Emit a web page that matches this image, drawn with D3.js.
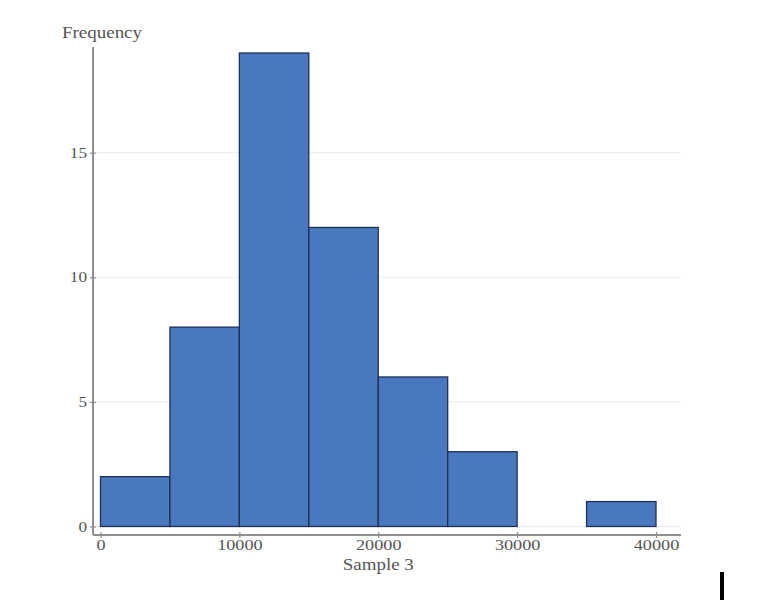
<!DOCTYPE html>
<html>
<head>
<meta charset="utf-8">
<script src="https://cdn.jsdelivr.net/npm/d3@7"></script>
<style>
  html, body { margin: 0; padding: 0; background: #fff; }
  svg { display: block; }
  text { font-family: "Liberation Serif", "Times New Roman", serif; fill: #555; }
</style>
</head>
<body>
<svg id="chart" width="776" height="602"></svg>
<script>
// Data: histogram of "Sample 3", bins of width 5000
const binStarts = [0, 5000, 10000, 15000, 20000, 25000, 30000, 35000];
const binWidth = 5000;
const counts = [2, 8, 19, 12, 6, 3, 0, 1];
const xTicks = [0, 10000, 20000, 30000, 40000];
const yTicks = [0, 5, 10, 15];
const xLabel = "Sample 3";
const yLabel = "Frequency";

const svg = d3.select("#chart");

const x = d3.scaleLinear().domain([0, 40000]).range([100.5, 656]);
const y = d3.scaleLinear().domain([0, 19]).range([526.5, 53]);

const plotRight = 681;
const fontFam = '"Liberation Serif", "Times New Roman", serif';

// gridlines
svg.append("g")
  .selectAll("line")
  .data(yTicks)
  .join("line")
  .attr("x1", 95).attr("x2", plotRight)
  .attr("y1", d => y(d)).attr("y2", d => y(d))
  .attr("stroke", "#ececec").attr("stroke-width", 1);

// bars
svg.append("g")
  .selectAll("rect")
  .data(binStarts.map((s, i) => ({ s, c: counts[i] })).filter(d => d.c > 0))
  .join("rect")
  .attr("x", d => x(d.s))
  .attr("width", d => x(d.s + binWidth) - x(d.s))
  .attr("y", d => y(d.c))
  .attr("height", d => y(0) - y(d.c))
  .attr("fill", "#4a78bf")
  .attr("stroke", "#1e3153")
  .attr("stroke-width", 1.3);

// y axis
const axisColor = "#8f8f8f";
svg.append("line")
  .attr("x1", 93).attr("x2", 93).attr("y1", 47).attr("y2", 535)
  .attr("stroke", axisColor).attr("stroke-width", 2);
const yAxis = d3.axisLeft(y).tickValues(yTicks).tickSize(0).tickPadding(6);
const gy = svg.append("g").attr("transform", "translate(93,0)").call(yAxis);
gy.select(".domain").remove();
gy.selectAll("text")
  .style("font-size", "14.5px").style("font-family", fontFam).attr("fill", "#666")
  .attr("textLength", d => String(d).length * 8.6)
  .attr("lengthAdjust", "spacingAndGlyphs");
gy.selectAll(".tick").append("line")
  .attr("x1", -3).attr("x2", 3).attr("stroke", axisColor).attr("stroke-width", 1.2);

// x axis
svg.append("line")
  .attr("x1", 93).attr("x2", plotRight).attr("y1", 535).attr("y2", 535)
  .attr("stroke", axisColor).attr("stroke-width", 2);
const xAxis = d3.axisBottom(x).tickValues(xTicks).tickFormat(d3.format("d")).tickSize(0).tickPadding(5);
const gx = svg.append("g").attr("transform", "translate(0,535)").call(xAxis);
gx.select(".domain").remove();
gx.selectAll("text")
  .style("font-size", "14.5px").style("font-family", fontFam).attr("fill", "#666")
  .attr("textLength", d => String(d).length * 9.1)
  .attr("lengthAdjust", "spacingAndGlyphs");
gx.selectAll(".tick").append("line")
  .attr("y1", -3).attr("y2", 3).attr("stroke", axisColor).attr("stroke-width", 1.2);

// labels
svg.append("text")
  .attr("x", 62).attr("y", 38)
  .style("font-size", "16px").attr("fill", "#555")
  .attr("textLength", 80).attr("lengthAdjust", "spacingAndGlyphs")
  .text(yLabel);
svg.append("text")
  .attr("x", (x(0) + x(40000)) / 2).attr("y", 570)
  .attr("text-anchor", "middle")
  .style("font-size", "16px").attr("fill", "#555")
  .attr("textLength", 71).attr("lengthAdjust", "spacingAndGlyphs")
  .text(xLabel);

// cursor artifact at bottom right
svg.append("rect")
  .attr("x", 720).attr("y", 572).attr("width", 4).attr("height", 28)
  .attr("fill", "#000");
</script>
</body>
</html>
